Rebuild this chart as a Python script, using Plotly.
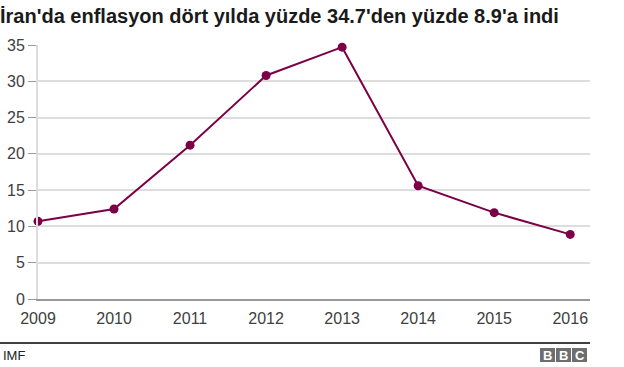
import plotly.graph_objects as go

years = [2009, 2010, 2011, 2012, 2013, 2014, 2015, 2016]
inflation = [10.7, 12.4, 21.2, 30.8, 34.7, 15.6, 11.9, 8.9]
y_ticks = [0, 5, 10, 15, 20, 25, 30, 35]
title_text = "İran'da enflasyon dört yılda yüzde 34.7'den yüzde 8.9'a indi"
source_text = "IMF"

line_color = "#7b0046"
FONT = "Liberation Sans, Arial, sans-serif"

fig = go.Figure()
fig.add_trace(go.Scatter(
    x=years, y=inflation, mode="lines+markers",
    line=dict(color=line_color, width=2),
    marker=dict(color=line_color, size=9),
    cliponaxis=False, hoverinfo="x+y",
))

W, H = 624, 367
ml, mr, mt, mb = 38, 34, 45, 68

fig.update_layout(
    width=W, height=H,
    margin=dict(l=ml, r=mr, t=mt, b=mb, pad=0, autoexpand=False),
    paper_bgcolor="white", plot_bgcolor="white",
    showlegend=False,
    font=dict(family=FONT, size=16, color="#404040"),
    title=dict(text="<b>" + title_text + "</b>", x=0, xref="container", xanchor="left",
               y=1 - 16 / H, yanchor="middle", yref="container",
               pad=dict(l=0, r=0, t=0, b=0),
               font=dict(family=FONT, size=20, color="#1a1a1a")),
    xaxis=dict(
        tickmode="array", tickvals=years, ticktext=[str(y) for y in years],
        range=[2009, 2016.26], showgrid=False, zeroline=False,
        showline=True, linecolor="#999999", linewidth=1.5,
        ticks="outside", ticklen=4, tickcolor="rgba(0,0,0,0)",
        tickfont=dict(size=16, color="#404040"), automargin=False,
    ),
    yaxis=dict(
        tickmode="array", tickvals=y_ticks, range=[0, 35],
        showgrid=True, gridcolor="#dddddd", gridwidth=2,
        zeroline=False, showline=True, linecolor="#dddddd", linewidth=2,
        ticks="outside", ticklen=8, tickcolor="#999999", tickwidth=1,
        tickfont=dict(size=16, color="#404040"), automargin=False,
    ),
)

pw, ph = W - ml - mr, H - mt - mb

# Footer rule
fig.add_shape(type="line", xref="paper", yref="paper",
              x0=-ml / pw, x1=(590 - ml) / pw,
              y0=(H - mb - 343) / ph, y1=(H - mb - 343) / ph,
              line=dict(color="#000000", width=1.5))

fig.add_annotation(text=source_text, xref="paper", yref="paper",
                   x=(1 - ml) / pw, y=(H - mb - 355) / ph,
                   xanchor="left", yanchor="middle", showarrow=False,
                   font=dict(family=FONT, size=13, color="#222222"))

# BBC logo blocks
for i, letter in enumerate(["B", "B", "C"]):
    x0 = 540 + i * 16
    fig.add_shape(type="rect", xref="paper", yref="paper",
                  x0=(x0 - ml) / pw, x1=(x0 + 15 - ml) / pw,
                  y0=(H - mb - 362) / ph, y1=(H - mb - 348) / ph,
                  fillcolor="#6e6e6e", line=dict(width=0))
    fig.add_annotation(text="<b>" + letter + "</b>", xref="paper", yref="paper",
                       x=(x0 + 7.5 - ml) / pw, y=(H - mb - 355) / ph,
                       xanchor="center", yanchor="middle", showarrow=False,
                       font=dict(family=FONT, size=13, color="white"))

fig.write_html("out.html", config={"displayModeBar": False},
               post_script="document.body.style.margin='0';document.body.style.overflow='hidden';")
